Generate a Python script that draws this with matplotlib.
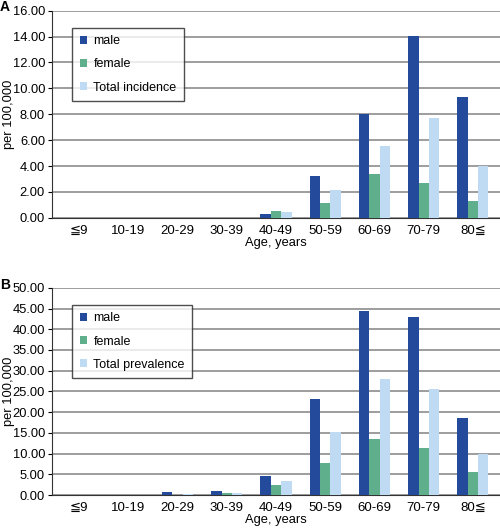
import numpy as np
import matplotlib.pyplot as plt

plt.rcParams['font.family'] = ['Liberation Sans', 'DejaVu Sans']

ages = ['≦9', '10-19', '20-29', '30-39', '40-49', '50-59', '60-69', '70-79', '80≦']

inc_male = [0, 0, 0, 0, 0.31, 3.26, 8.03, 14.05, 9.31]
inc_female = [0, 0, 0, 0, 0.56, 1.16, 3.42, 2.72, 1.31]
inc_total = [0, 0, 0, 0, 0.46, 2.16, 5.56, 7.74, 4.04]

prev_male = [0, 0, 0.7, 0.9, 4.5, 23.1, 44.5, 42.9, 18.6]
prev_female = [0, 0, 0.05, 0.5, 2.3, 7.7, 13.6, 11.4, 5.6]
prev_total = [0, 0, 0.3, 0.6, 3.3, 15.1, 27.9, 25.5, 10.0]

c_male = '#234a9b'
c_female = '#5fae8c'
c_total = '#bfdbf3'

fig = plt.figure(figsize=(5, 5.3), dpi=100)


def panel(rect, male, female, total, total_label, ymax, step, letter):
    ax = fig.add_axes(rect)
    x = np.arange(len(ages))
    w = 0.21
    ax.bar(x - w, male, w, color=c_male, label='male', zorder=3)
    ax.bar(x, female, w, color=c_female, label='female', zorder=3)
    ax.bar(x + w, total, w, color=c_total, label=total_label, zorder=3)
    ax.set_xlim(-0.55, len(ages) - 0.45)
    ax.set_ylim(0, ymax)
    ticks = np.arange(0, ymax + 0.01, step)
    ax.set_yticks(ticks)
    ax.set_yticklabels(['%.2f' % v for v in ticks])
    ax.set_xticks(x)
    ax.set_xticklabels(ages)
    ax.tick_params(axis='x', length=0, labelsize=9.5, pad=5)
    ax.tick_params(axis='y', length=3, labelsize=9.3, pad=2)
    ax.yaxis.grid(True, color='#8c8c8c', linewidth=1.2, zorder=0)
    ax.set_axisbelow(True)
    for s in ['top', 'right']:
        ax.spines[s].set_visible(False)
    ax.spines['left'].set_color('#333333')
    ax.spines['bottom'].set_color('#333333')
    ax.set_ylabel('per 100,000', fontsize=9.3)
    ax.yaxis.set_label_coords(-0.082, 0.5)
    ax.set_xlabel('Age, years', fontsize=9.3, labelpad=0)
    leg = ax.legend(loc='upper left', bbox_to_anchor=(0.045, 0.918), fontsize=9.0,
                    frameon=True, fancybox=False, edgecolor='#222222',
                    handlelength=0.6, handleheight=0.6, labelspacing=0.9,
                    borderpad=0.6, handletextpad=0.5, borderaxespad=0)
    leg.get_frame().set_linewidth(1.0)
    fig.text(0.0, rect[1] + rect[3] + 0.006, letter, fontsize=10,
             fontweight='bold', va='center', ha='left')
    return ax


panel([0.104, 0.589, 0.896, 0.391], inc_male, inc_female, inc_total,
      'Total incidence', 16, 2, 'A')
panel([0.104, 0.066, 0.896, 0.391], prev_male, prev_female, prev_total,
      'Total prevalence', 50, 5, 'B')

fig.savefig('out.png', dpi=100)
